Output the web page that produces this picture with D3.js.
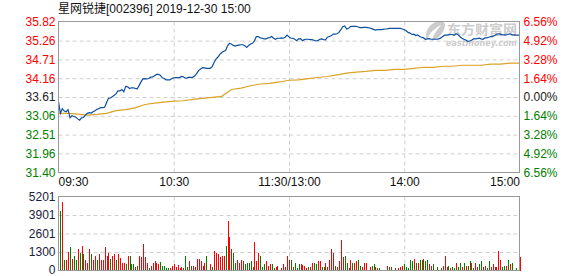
<!DOCTYPE html>
<html>
<head>
<meta charset="utf-8">
<script src="https://cdn.jsdelivr.net/npm/d3@7"></script>
<style>
  body { margin: 0; background: #fff; }
  svg { display: block; font-family: "Liberation Sans", Arial, "Noto Sans CJK SC", sans-serif; }
</style>
</head>
<body>
<svg id="chart" width="578" height="276"></svg>
<script>
const title = '星网锐捷[002396] 2019-12-30 15:00'
const prevClose = 33.61

const timeTicks = [0, 60, 120, 180, 240]
const timeLabels = ['09:30', '10:30', '11:30/13:00', '14:00', '15:00']

const priceTicks = [35.82, 35.26, 34.71, 34.16, 33.61, 33.06, 32.51, 31.96, 31.40]
const pctLabels = ['6.56%', '4.92%', '3.28%', '1.64%', '0.00%', '1.64%', '3.28%', '4.92%', '6.56%']
const volTicks = [0, 1300, 2601, 3901, 5201]

// one value per minute, 09:30 .. 11:30 / 13:01 .. 15:00
const price = [
  33.47,33.13,33.27,33.20,33.18,33.24,33.00,33.06,33.04,33.02,
  32.97,32.93,33.00,33.01,33.08,33.13,33.15,33.14,33.18,33.21,
  33.25,33.27,33.30,33.30,33.31,33.44,33.57,33.58,33.62,33.66,
  33.71,33.79,33.79,33.83,33.76,33.92,33.91,33.86,33.88,33.88,
  33.86,33.85,33.95,34.06,34.14,34.15,34.14,34.15,34.19,34.20,
  34.23,34.27,34.27,34.25,34.17,34.15,34.11,34.11,34.11,34.15,
  34.17,34.18,34.18,34.18,34.21,34.20,34.16,34.17,34.19,34.18,
  34.19,34.23,34.30,34.39,34.43,34.47,34.46,34.45,34.45,34.45,
  34.50,34.62,34.72,34.78,34.86,34.91,34.95,34.97,35.11,35.18,
  35.16,35.12,35.10,35.12,35.13,35.14,35.14,35.11,35.06,35.12,
  35.16,35.18,35.25,35.38,35.38,35.34,35.33,35.31,35.31,35.34,
  35.35,35.38,35.33,35.30,35.33,35.33,35.34,35.33,35.36,35.42,
  35.37,35.33,35.33,35.30,35.26,35.31,35.32,35.26,35.29,35.30,
  35.30,35.29,35.29,35.27,35.25,35.26,35.30,35.31,35.29,35.28,
  35.36,35.38,35.40,35.45,35.45,35.46,35.50,35.58,35.67,35.69,
  35.60,35.62,35.67,35.68,35.68,35.68,35.66,35.64,35.64,35.65,
  35.65,35.64,35.63,35.61,35.59,35.57,35.58,35.58,35.58,35.59,
  35.60,35.60,35.62,35.62,35.62,35.62,35.62,35.62,35.62,35.60,
  35.58,35.55,35.50,35.48,35.44,35.45,35.41,35.43,35.38,35.36,
  35.34,35.30,35.31,35.32,35.30,35.30,35.30,35.30,35.31,35.34,
  35.38,35.42,35.42,35.43,35.44,35.44,35.42,35.46,35.43,35.38,
  35.33,35.30,35.28,35.24,35.25,35.27,35.31,35.31,35.32,35.33,
  35.31,35.30,35.34,35.34,35.36,35.38,35.38,35.41,35.44,35.46,
  35.45,35.43,35.43,35.43,35.44,35.46,35.43,35.43,35.42,35.42,35.42
]

// average price, read every 5 minutes
const avgStep = 5
const avgPrice = [
  33.13,33.13,33.11,33.08,33.10,33.13,33.21,33.24,33.29,33.39,33.43,33.46,33.49,
  33.50,33.54,33.57,33.60,33.63,33.83,33.87,33.94,33.99,34.01,34.05,34.10,
  34.11,34.15,34.18,34.21,34.26,34.31,34.34,34.36,34.39,34.39,34.42,34.42,
  34.45,34.48,34.48,34.51,34.51,34.54,34.54,34.54,34.57,34.57,34.60,34.60
]

const volume = [
  0,4217,4780,773,703,1312,1640,843,984,703,
  1476,1242,1757,1172,773,492,1476,1172,703,984,
  773,1125,703,703,1617,984,1265,843,984,1172,
  703,1172,890,539,539,469,1054,1054,469,469,
  281,351,1054,937,1874,937,539,187,351,539,
  633,539,422,609,351,351,187,187,187,305,
  422,234,375,187,281,141,984,281,633,351,
  351,211,843,843,633,351,492,1054,70,422,
  281,1336,1265,1125,914,984,1054,1757,3444,2320,
  1546,1265,562,703,562,726,633,422,492,492,
  633,211,1968,633,1265,984,281,422,633,351,
  422,422,141,211,351,70,141,422,211,1054,
  703,773,281,492,141,422,422,398,351,141,
  281,211,492,492,422,633,633,281,211,562,
  281,773,1546,1265,351,211,633,2109,914,1054,
  492,141,703,492,492,633,703,351,211,562,
  492,70,281,351,422,281,141,141,70,70,
  70,351,211,281,70,141,70,141,211,351,
  422,211,141,773,633,843,562,492,773,773,
  843,633,703,422,351,422,70,211,70,141,
  351,984,211,351,141,211,141,562,281,562,
  281,492,351,351,633,492,141,492,281,422,
  633,211,351,141,633,211,422,211,281,1336,
  703,281,351,351,703,422,492,70,141,70,914
]
// 1 = price up (red), 0 = price down (green)
const volUp = [
  1,0,1,0,1,1,0,1,0,0, 1,0,1,0,1,1,1,0,1,1, 0,1,1,1,1,1,1,0,1,1,
  0,1,1,1,1,0,1,0,0,0, 1,0,1,1,1,1,1,0,1,1, 1,1,1,0,0,0,0,0,1,1,
  1,1,1,1,1,1,0,0,1,0, 1,1,1,1,1,1,1,0,0,1, 0,1,1,1,1,1,1,0,1,1,
  1,0,0,1,1,1,1,0,0,0, 0,1,1,1,1,0,0,0,1,1, 1,0,0,1,1,0,1,1,1,1,
  1,0,1,0,0,0,1,1,1,1, 0,1,1,0,0,1,1,0,0,1, 1,1,1,1,0,1,1,1,1,0,
  0,1,1,0,1,1,0,0,1,1, 1,0,1,0,0,1,1,0,0,1, 1,1,0,1,0,0,0,1,1,1,
  0,0,0,0,0,1,0,1,0,0, 1,0,0,1,1,0,1,0,1,0, 1,1,1,0,1,0,0,1,0,0,
  1,0,1,0,0,1,0,1,1,0, 0,1,1,0,0,1,1,1,1,1, 1,0,0,1,0,1,0,1,0,1,1
]

const plotL = 58.5, plotR = 519.5
const plotT = 21.5, plotB = 172.5
const volT = 196.5, volB = 270.5

const RED = '#ff0000', GREEN = '#008000', DARK = '#222'
const gridColor = '#cfcfcf', frameColor = '#999'

const svg = d3.select('#chart')

const x = d3.scaleLinear().domain([0, 240]).range([plotL, plotR])
const y = d3.scaleLinear().domain([31.40, 35.82]).range([plotB, plotT])
const yv = d3.scaleLinear().domain([0, 5201]).range([volB, volT])

const priceColor = d => d > prevClose + 1e-6 ? RED : (d < prevClose - 1e-6 ? GREEN : DARK)

// title
svg.append('text')
  .attr('x', 58).attr('y', 13)
  .attr('font-size', 12).attr('fill', '#111')
  .text(title)

// watermark
const wm = svg.append('g').attr('fill', '#cccccc')
wm.append('path')
  .attr('d', 'M436,22 C428,25 424,33 427,40 C429,34 433,29 441,25 C437,30 433,35 432,41 C438,39 444,33 445,26 C446,22 441,20 436,22 Z')
wm.append('text').attr('x', 447).attr('y', 34).attr('font-size', 13).attr('font-weight', 'bold')
  .attr('font-family', '"Noto Sans CJK SC", sans-serif')
  .attr('textLength', 70).attr('lengthAdjust', 'spacingAndGlyphs').text('东方财富网')
wm.append('text').attr('x', 446).attr('y', 46).attr('font-size', 9).attr('font-weight', 'bold')
  .attr('font-style', 'italic').attr('font-family', '"DejaVu Sans", sans-serif')
  .attr('textLength', 71).attr('lengthAdjust', 'spacingAndGlyphs').text('eastmoney.com')

const dashGrid = g => g.call(g => g.select('.domain').remove())
  .call(g => g.selectAll('line').attr('stroke', gridColor).attr('stroke-dasharray', '4,3'))

// horizontal grid, price panel
svg.append('g')
  .attr('transform', `translate(${plotL},0)`)
  .call(d3.axisLeft(y).tickValues(priceTicks.slice(1, -1)).tickSize(-(plotR - plotL)).tickFormat(''))
  .call(dashGrid)

// horizontal grid, volume panel
svg.append('g')
  .attr('transform', `translate(${plotL},0)`)
  .call(d3.axisLeft(yv).tickValues(volTicks.slice(1, -1)).tickSize(-(plotR - plotL)).tickFormat(''))
  .call(dashGrid)

// vertical grid on both panels
;[[plotT, plotB], [volT, volB]].forEach(([a, b]) => {
  svg.append('g')
    .attr('transform', `translate(0,${b})`)
    .call(d3.axisBottom(x).tickValues(timeTicks.slice(1, -1)).tickSize(-(b - a)).tickFormat(''))
    .call(dashGrid)
})

// volume bars
svg.append('g')
  .attr('shape-rendering', 'crispEdges')
  .selectAll('rect')
  .data(volume)
  .enter()
  .append('rect')
  .attr('x', (d, i) => Math.round(x(i)) - 0.5)
  .attr('y', d => yv(d))
  .attr('width', 1)
  .attr('height', d => yv(0) - yv(d))
  .attr('fill', (d, i) => volUp[i] ? RED : GREEN)

// average line
svg.append('path')
  .datum(avgPrice)
  .attr('fill', 'none')
  .attr('stroke', '#dba326')
  .attr('stroke-width', 1.2)
  .attr('d', d3.line().x((d, i) => x(i * avgStep)).y(d => y(d)))

// price line
svg.append('path')
  .datum(price)
  .attr('fill', 'none')
  .attr('stroke', '#0d4f9e')
  .attr('stroke-width', 1.2)
  .attr('d', d3.line().x((d, i) => x(i)).y(d => y(d)))

// frames
svg.append('rect').attr('x', plotL).attr('y', plotT).attr('width', plotR - plotL).attr('height', plotB - plotT)
  .attr('fill', 'none').attr('stroke', frameColor)
svg.append('rect').attr('x', plotL).attr('y', volT).attr('width', plotR - plotL).attr('height', volB - volT)
  .attr('fill', 'none').attr('stroke', frameColor)

// left price axis
svg.append('g')
  .attr('transform', `translate(${plotL},0)`)
  .call(d3.axisLeft(y).tickValues(priceTicks).tickSize(0).tickPadding(3).tickFormat(d3.format('.2f')))
  .call(g => g.select('.domain').remove())
  .call(g => g.selectAll('text').attr('font-size', 12).attr('font-family', null).attr('fill', d => priceColor(d)))

// right percent axis
svg.append('g')
  .attr('transform', `translate(${plotR},0)`)
  .call(d3.axisRight(y).tickValues(priceTicks).tickSize(0).tickPadding(4).tickFormat((d, i) => pctLabels[i]))
  .call(g => g.select('.domain').remove())
  .call(g => g.selectAll('text').attr('font-size', 12).attr('font-family', null).attr('fill', d => priceColor(d)))

// time axis
svg.append('g')
  .attr('transform', `translate(0,${plotB})`)
  .call(d3.axisBottom(x).tickValues(timeTicks).tickSize(0).tickPadding(5).tickFormat((d, i) => timeLabels[i]))
  .call(g => g.select('.domain').remove())
  .call(g => g.selectAll('text').attr('font-size', 12).attr('font-family', null).attr('fill', '#111')
    .attr('text-anchor', (d, i) => i === 0 ? 'start' : (i === timeTicks.length - 1 ? 'end' : 'middle'))
    .attr('dx', (d, i) => i === 0 ? -0.5 : 0))

// volume axis
svg.append('g')
  .attr('transform', `translate(${plotL},0)`)
  .call(d3.axisLeft(yv).tickValues(volTicks).tickSize(0).tickPadding(3).tickFormat(d3.format('d')))
  .call(g => g.select('.domain').remove())
  .call(g => g.selectAll('text').attr('font-size', 12).attr('font-family', null).attr('fill', '#1c1c3c')
    .attr('dy', (d, i) => i === 0 ? '0.22em' : '0.32em'))
</script>
</body>
</html>
